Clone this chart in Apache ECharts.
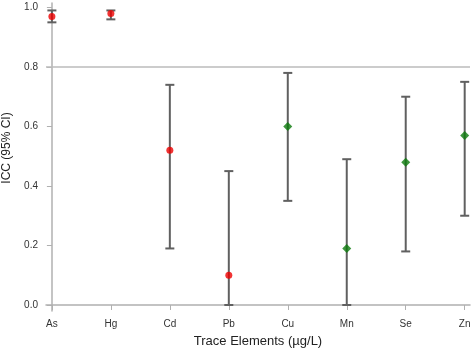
<!DOCTYPE html>
<html>
<head>
<meta charset="utf-8">
<script src="https://cdn.jsdelivr.net/npm/echarts@6/dist/echarts.min.js"></script>
<style>html,body{margin:0;padding:0;background:#fff}#c{width:474px;height:351px}</style>
</head>
<body>
<div id="c"></div>
<script>
var categories = ['As','Hg','Cd','Pb','Cu','Mn','Se','Zn'];
var icc   = [0.97, 0.98, 0.52, 0.10, 0.60, 0.19, 0.48, 0.57];
var lower = [0.95, 0.96, 0.19, 0.00, 0.35, 0.00, 0.18, 0.30];
var upper = [0.99, 0.99, 0.74, 0.45, 0.78, 0.49, 0.70, 0.75];
var groupA = ['As','Hg','Cd','Pb'];   // red circles
var groupB = ['Cu','Mn','Se','Zn'];   // green diamonds
var yTicks = [0, 0.2, 0.4, 0.6, 0.8, 1.0];
var refLine = 0.8;

var errData = categories.map(function(c,i){ return [i, lower[i], upper[i]]; });
var redData = [], greenData = [];
categories.forEach(function(c,i){
  if (groupA.indexOf(c) >= 0) redData.push([i, icc[i]]);
  else greenData.push([i, icc[i]]);
});

var chart = echarts.init(document.getElementById('c'));
var font = 'Liberation Sans, Arial, sans-serif';
chart.setOption({
  animation: false,
  grid: {left: 46, right: 4, top: 3, bottom: 40, outerBoundsMode: 'none', containLabel: false},
  xAxis: {
    type: 'value', min: -0.1, max: 7.09,
    name: 'Trace Elements (\u00b5g/L)', nameLocation: 'middle', nameGap: 24,
    nameTextStyle: {color: '#222', fontSize: 13, fontFamily: font},
    splitLine: {show: false},
    axisLine: {lineStyle: {color: '#b0b0b0', width: 1.5}},
    axisTick: {show: true, length: 5, lineStyle: {color: '#b0b0b0'}, customValues: categories.map(function(c,i){return i;})},
    axisLabel: {color: '#333', fontSize: 10, fontFamily: font, margin: 8,
      customValues: categories.map(function(c,i){return i;}),
      formatter: function(v){ return categories[Math.round(v)] || ''; }}
  },
  yAxis: {
    type: 'value', min: -0.0202, max: 1.015,
    name: 'ICC (95% CI)', nameLocation: 'middle', nameGap: 33,
    nameTextStyle: {color: '#222', fontSize: 12, fontFamily: font, padding: [0, 0, 0, 18]},
    splitLine: {show: false},
    axisLine: {show: true, lineStyle: {color: '#b0b0b0', width: 1.5}},
    axisTick: {show: true, length: 5, lineStyle: {color: '#b0b0b0'}, customValues: yTicks},
    axisLabel: {color: '#333', fontSize: 10, fontFamily: font, margin: 8,
      customValues: yTicks,
      formatter: function(v){ return v.toFixed(1); }}
  },
  series: [
    {
      type: 'custom',
      data: errData,
      renderItem: function(params, api){
        var x = api.value(0);
        var lo = api.coord([x, api.value(1)]);
        var hi = api.coord([x, api.value(2)]);
        var hw = 4.5;
        var st = {stroke: '#606060', lineWidth: 2};
        return {type: 'group', children: [
          {type: 'line', shape: {x1: lo[0], y1: lo[1], x2: hi[0], y2: hi[1]}, style: st},
          {type: 'line', shape: {x1: lo[0]-hw, y1: lo[1], x2: lo[0]+hw, y2: lo[1]}, style: st},
          {type: 'line', shape: {x1: hi[0]-hw, y1: hi[1], x2: hi[0]+hw, y2: hi[1]}, style: st}
        ]};
      },
      markLine: {
        silent: true, symbol: 'none', label: {show: false},
        lineStyle: {color: '#bbbbbb', width: 1.5, type: 'solid'},
        data: [{yAxis: refLine}]
      },
      z: 2
    },
    {
      type: 'scatter', data: redData, symbol: 'circle', symbolSize: 7,
      itemStyle: {color: '#ee0000'}, z: 3
    },
    {
      type: 'scatter', data: greenData, symbol: 'diamond', symbolSize: 9,
      itemStyle: {color: '#0b7a0b'}, z: 3
    }
  ]
});
</script>
</body>
</html>
